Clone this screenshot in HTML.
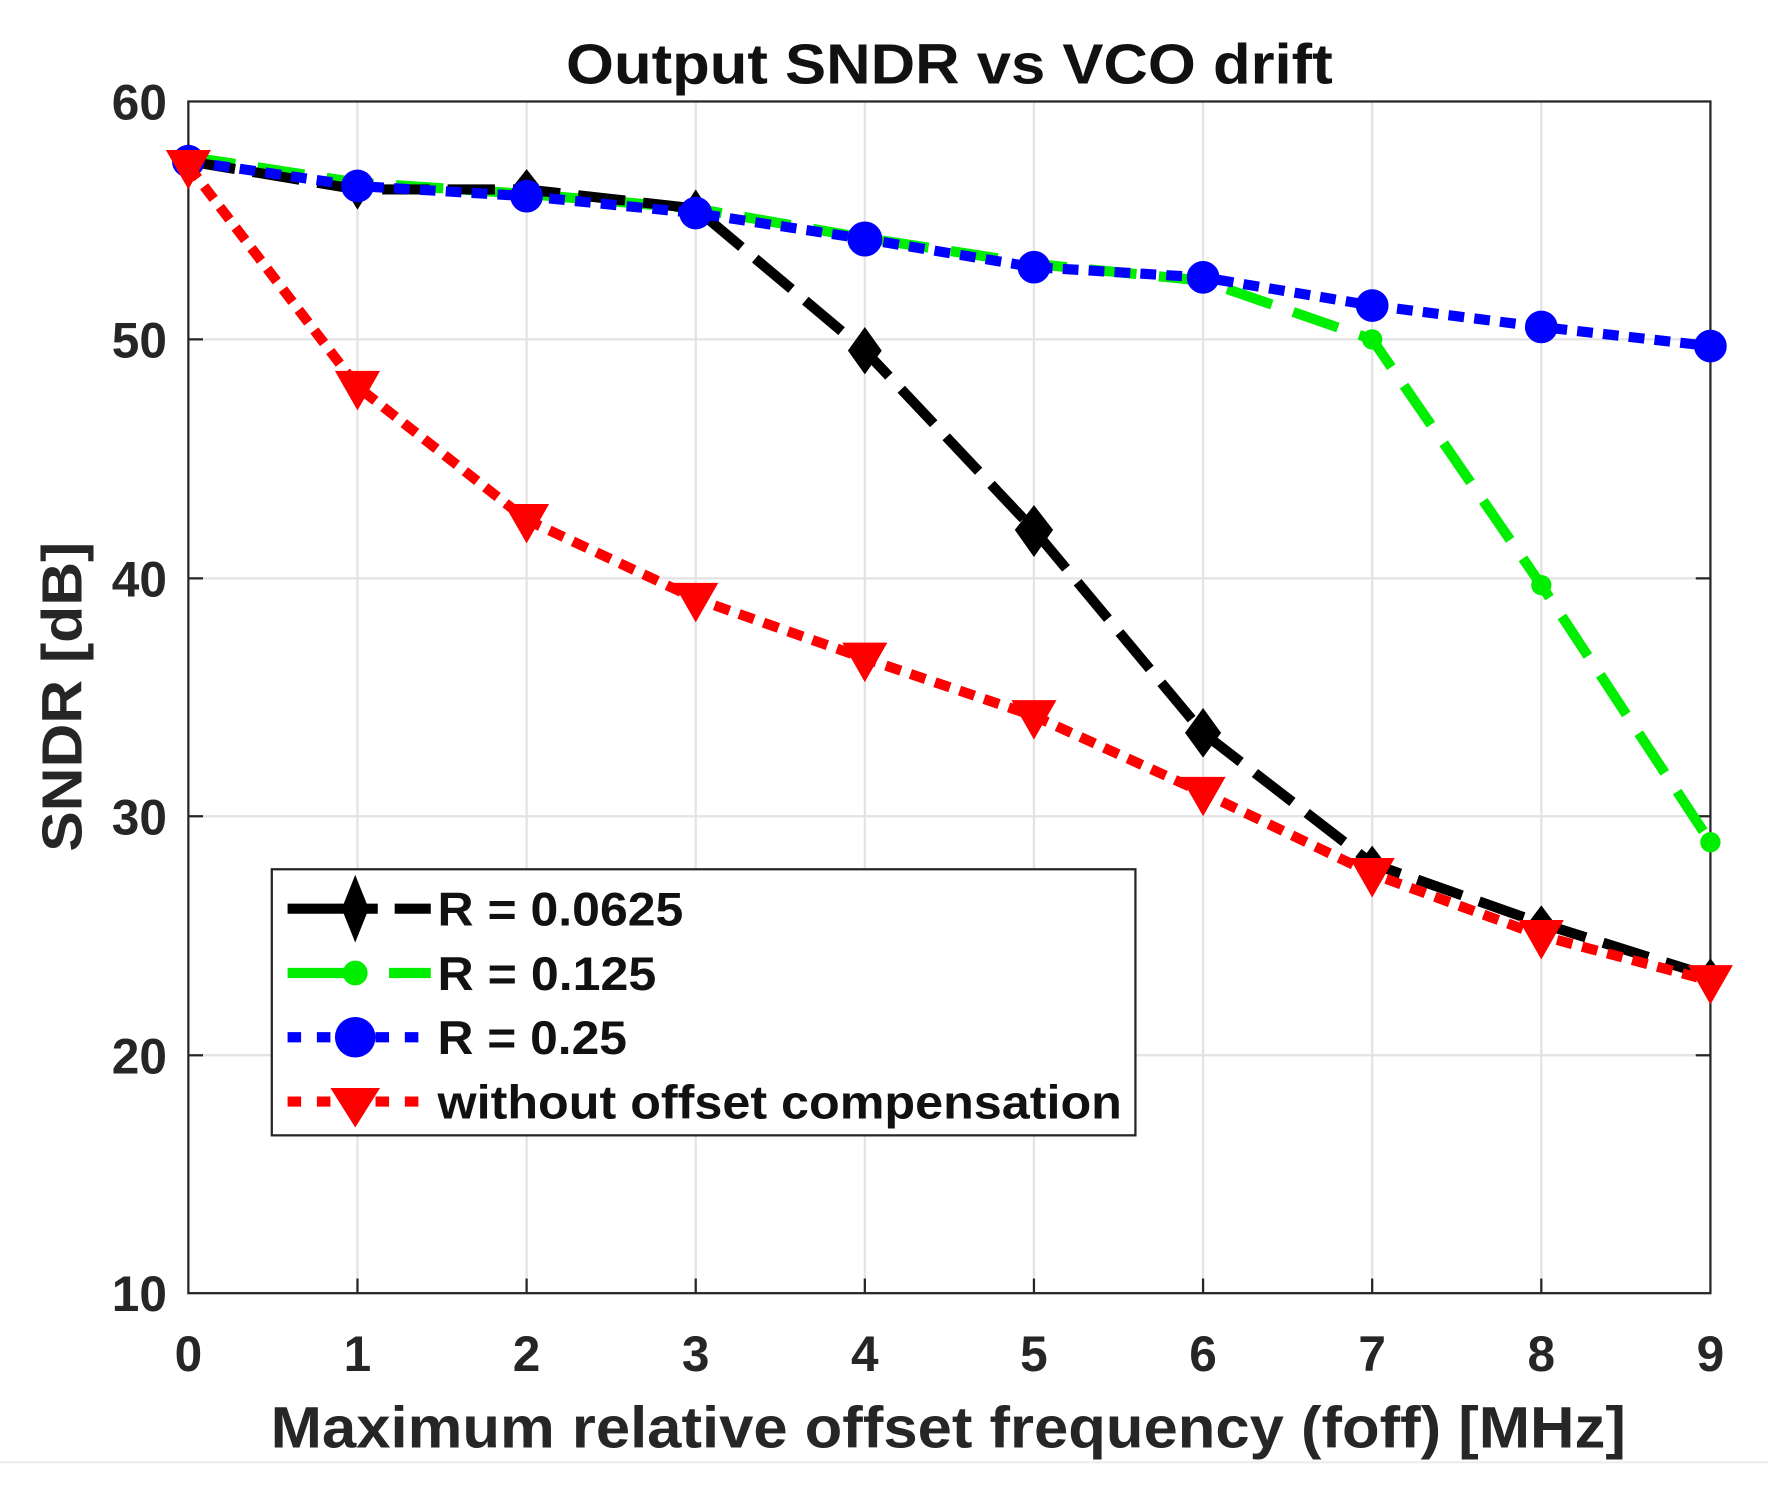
<!DOCTYPE html>
<html><head><style>html,body{margin:0;padding:0;background:#fff}svg{display:block}</style></head>
<body>
<svg width="1768" height="1495" viewBox="0 0 1568 1326" xmlns="http://www.w3.org/2000/svg" font-family="Liberation Sans, Arial, sans-serif" font-weight="bold">
<rect width="1568" height="1326" fill="#fff"/>
<line x1="0" y1="1297" x2="1568" y2="1297" stroke="#eee" stroke-width="2"/>
<g stroke="#e3e3e3" stroke-width="2">
<line x1="317" y1="90" x2="317" y2="1147"/><line x1="467" y1="90" x2="467" y2="1147"/><line x1="617" y1="90" x2="617" y2="1147"/><line x1="767" y1="90" x2="767" y2="1147"/><line x1="917" y1="90" x2="917" y2="1147"/><line x1="1067" y1="90" x2="1067" y2="1147"/><line x1="1217" y1="90" x2="1217" y2="1147"/><line x1="1367" y1="90" x2="1367" y2="1147"/>
<line x1="167" y1="301" x2="1517" y2="301"/><line x1="167" y1="513" x2="1517" y2="513"/><line x1="167" y1="724" x2="1517" y2="724"/><line x1="167" y1="936" x2="1517" y2="936"/>
</g>
<rect x="167" y="90" width="1350" height="1057" fill="none" stroke="#262626" stroke-width="2"/>
<g stroke="#262626" stroke-width="2">
<line x1="317" y1="1147" x2="317" y2="1134"/><line x1="467" y1="1147" x2="467" y2="1134"/><line x1="617" y1="1147" x2="617" y2="1134"/><line x1="767" y1="1147" x2="767" y2="1134"/><line x1="917" y1="1147" x2="917" y2="1134"/><line x1="1067" y1="1147" x2="1067" y2="1134"/><line x1="1217" y1="1147" x2="1217" y2="1134"/><line x1="1367" y1="1147" x2="1367" y2="1134"/>
<line x1="167" y1="301" x2="180" y2="301"/><line x1="167" y1="513" x2="180" y2="513"/><line x1="167" y1="724" x2="180" y2="724"/><line x1="167" y1="936" x2="180" y2="936"/>
<line x1="1517" y1="301" x2="1504" y2="301"/><line x1="1517" y1="513" x2="1504" y2="513"/><line x1="1517" y1="724" x2="1504" y2="724"/><line x1="1517" y1="936" x2="1504" y2="936"/>
</g>
<text x="502" y="74" textLength="680" lengthAdjust="spacingAndGlyphs" font-size="50" fill="#111">Output SNDR vs VCO drift</text>
<g font-size="44" fill="#262626" text-anchor="end">
<text x="148" y="106">60</text><text x="148" y="317">50</text><text x="148" y="529">40</text><text x="148" y="740">30</text><text x="148" y="952">20</text><text x="148" y="1163">10</text>
</g>
<g font-size="44" fill="#262626" text-anchor="middle">
<text x="167" y="1216">0</text><text x="317" y="1216">1</text><text x="467" y="1216">2</text><text x="617" y="1216">3</text><text x="767" y="1216">4</text><text x="917" y="1216">5</text><text x="1067" y="1216">6</text><text x="1217" y="1216">7</text><text x="1367" y="1216">8</text><text x="1517" y="1216">9</text>
</g>
<text x="240" y="1284" textLength="1202" lengthAdjust="spacingAndGlyphs" font-size="52" fill="#262626">Maximum relative offset frequency (foff) [MHz]</text>
<text transform="translate(72,618) rotate(-90)" text-anchor="middle" font-size="50" fill="#262626" textLength="275" lengthAdjust="spacingAndGlyphs">SNDR [dB]</text>

<!-- green -->
<polyline fill="none" stroke="#00ee00" stroke-width="9" stroke-dasharray="42,20" points="167,139 317,162 467,172 617,185 767,211 917,234 1067,249 1217,301 1367,519 1517,747"/>
<g fill="#00ee00">
<circle cx="1217" cy="301" r="9"/><circle cx="1367" cy="519" r="9"/><circle cx="1517" cy="747" r="9"/>
</g>
<!-- black -->
<polyline fill="none" stroke="#000" stroke-width="9" stroke-dasharray="42,16" points="167,143 317,168 467,168 617,185 767,311 917,470 1067,650 1217,766 1367,819 1517,866"/>
<g fill="#000">
<polygon points="167,127 177,143 167,159 157,143"/><polygon points="317,150 328,168 317,186 306,168"/><polygon points="467,150 478,164 467,182 456,164"/><polygon points="617,168 628,185 617,202 606,185"/><polygon points="767,290 782,311 767,332 752,311"/><polygon points="917,448 934,470 917,494 900,470"/><polygon points="1067,628 1083,650 1067,672 1051,650"/><polygon points="1217,750 1229,766 1217,782 1205,766"/><polygon points="1367,803 1379,819 1367,835 1355,819"/><polygon points="1517,850 1529,866 1517,882 1505,866"/>
</g>
<!-- blue -->
<polyline fill="none" stroke="#0000ff" stroke-width="9" stroke-dasharray="14,9" points="167,143 317,165 467,174 617,189 767,212 917,237 1067,246 1217,271 1367,290 1517,307"/>
<g fill="#0000ff" stroke="#0000ff" stroke-width="3">
<circle cx="167" cy="143" r="13"/><circle cx="317" cy="165" r="13"/><circle cx="467" cy="174" r="13"/><circle cx="617" cy="189" r="13"/><circle cx="767" cy="212" r="14"/><circle cx="917" cy="237" r="13"/><circle cx="1067" cy="246" r="13"/><circle cx="1217" cy="271" r="13"/><circle cx="1367" cy="290" r="13"/><circle cx="1517" cy="307" r="13"/>
</g>
<!-- red -->
<polyline fill="none" stroke="#ff0000" stroke-width="9" stroke-dasharray="14,9" points="167,147 317,343 467,461 617,531 767,584 917,635 1067,703 1217,775 1367,830 1517,870"/>
<g fill="#ff0000">
<polygon points="147,133 187,133 167,168"/><polygon points="297,329 337,329 317,364"/><polygon points="447,447 487,447 467,482"/><polygon points="597,517 637,517 617,552"/><polygon points="747,570 787,570 767,605"/><polygon points="897,621 937,621 917,656"/><polygon points="1047,689 1087,689 1067,724"/><polygon points="1197,761 1237,761 1217,796"/><polygon points="1347,816 1387,816 1367,851"/><polygon points="1497,856 1537,856 1517,891"/>
</g>
<!-- legend -->
<rect x="241" y="771" width="766" height="236" fill="#fff" stroke="#262626" stroke-width="2"/>
<line x1="255" y1="806" x2="382" y2="806" stroke="#000" stroke-width="9" stroke-dasharray="80,15"/>
<polygon points="315,776 327,806 315,836 303,806" fill="#000"/>
<line x1="255" y1="863" x2="382" y2="863" stroke="#00ee00" stroke-width="9" stroke-dasharray="70,20"/>
<circle cx="315" cy="863" r="11" fill="#00ee00"/>
<line x1="255" y1="920" x2="382" y2="920" stroke="#0000ff" stroke-width="9" stroke-dasharray="12,14"/>
<circle cx="315" cy="920" r="18" fill="#0000ff"/>
<line x1="255" y1="977" x2="382" y2="977" stroke="#ff0000" stroke-width="9" stroke-dasharray="12,14"/>
<polygon points="293,965 337,965 315,1000" fill="#ff0000"/>
<g font-size="42" fill="#111">
<text x="388" y="821" textLength="218" lengthAdjust="spacingAndGlyphs">R = 0.0625</text><text x="388" y="878" textLength="194" lengthAdjust="spacingAndGlyphs">R = 0.125</text><text x="388" y="935" textLength="168" lengthAdjust="spacingAndGlyphs">R = 0.25</text><text x="388" y="992" textLength="607" lengthAdjust="spacingAndGlyphs">without offset compensation</text>
</g>
</svg>
</body></html>
